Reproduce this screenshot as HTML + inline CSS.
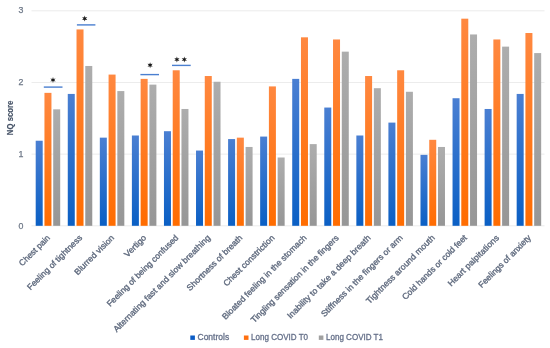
<!DOCTYPE html>
<html><head><meta charset="utf-8"><style>
html,body{margin:0;padding:0;background:#fff;}
body{width:550px;height:348px;overflow:hidden;}
svg{display:block;filter:blur(0.35px);}
text{font-family:"Liberation Sans",sans-serif;}
</style></head><body>
<svg width="550" height="348" viewBox="0 0 550 348">
<defs>
<linearGradient id="gb" x1="0" y1="0" x2="0" y2="1"><stop offset="0" stop-color="#4a7fd2"/><stop offset="1" stop-color="#0a5fc4"/></linearGradient>
<linearGradient id="go" x1="0" y1="0" x2="0" y2="1"><stop offset="0" stop-color="#ff8840"/><stop offset="1" stop-color="#ff6c00"/></linearGradient>
<linearGradient id="gg" x1="0" y1="0" x2="0" y2="1"><stop offset="0" stop-color="#adadad"/><stop offset="1" stop-color="#969696"/></linearGradient>
</defs>
<rect width="550" height="348" fill="#fff"/>

<line x1="31.5" y1="225.80" x2="544.5" y2="225.80" stroke="#ececec" stroke-width="1"/>
<line x1="31.5" y1="154.13" x2="544.5" y2="154.13" stroke="#ececec" stroke-width="1"/>
<line x1="31.5" y1="82.47" x2="544.5" y2="82.47" stroke="#ececec" stroke-width="1"/>
<line x1="31.5" y1="10.80" x2="544.5" y2="10.80" stroke="#ececec" stroke-width="1"/>
<text x="23.3" y="228.70" font-size="8.8" fill="#6e7888" stroke="#6e7888" stroke-width="0.25" text-anchor="end">0</text>
<text x="23.3" y="157.03" font-size="8.8" fill="#6e7888" stroke="#6e7888" stroke-width="0.25" text-anchor="end">1</text>
<text x="23.3" y="85.37" font-size="8.8" fill="#6e7888" stroke="#6e7888" stroke-width="0.25" text-anchor="end">2</text>
<text x="23.3" y="13.20" font-size="8.8" fill="#6e7888" stroke="#6e7888" stroke-width="0.25" text-anchor="end">3</text>
<text transform="translate(13.1 117.9) rotate(-90)" font-size="8.6" font-weight="bold" fill="#475468" stroke="#475468" stroke-width="0.15" text-anchor="middle" textLength="34.6" lengthAdjust="spacingAndGlyphs">NQ score</text>
<rect x="35.70" y="140.73" width="7.0" height="85.07" fill="url(#gb)"/>
<rect x="44.45" y="92.86" width="7.0" height="132.94" fill="url(#go)"/>
<rect x="53.20" y="109.34" width="7.0" height="116.46" fill="url(#gg)"/>
<rect x="67.77" y="93.93" width="7.0" height="131.87" fill="url(#gb)"/>
<rect x="76.52" y="29.43" width="7.0" height="196.37" fill="url(#go)"/>
<rect x="85.27" y="65.98" width="7.0" height="159.82" fill="url(#gg)"/>
<rect x="99.83" y="137.65" width="7.0" height="88.15" fill="url(#gb)"/>
<rect x="108.58" y="74.58" width="7.0" height="151.22" fill="url(#go)"/>
<rect x="117.33" y="91.07" width="7.0" height="134.73" fill="url(#gg)"/>
<rect x="131.89" y="135.50" width="7.0" height="90.30" fill="url(#gb)"/>
<rect x="140.64" y="78.88" width="7.0" height="146.92" fill="url(#go)"/>
<rect x="149.39" y="84.62" width="7.0" height="141.18" fill="url(#gg)"/>
<rect x="163.96" y="131.20" width="7.0" height="94.60" fill="url(#gb)"/>
<rect x="172.71" y="70.28" width="7.0" height="155.52" fill="url(#go)"/>
<rect x="181.46" y="108.98" width="7.0" height="116.82" fill="url(#gg)"/>
<rect x="196.02" y="150.55" width="7.0" height="75.25" fill="url(#gb)"/>
<rect x="204.77" y="76.02" width="7.0" height="149.78" fill="url(#go)"/>
<rect x="213.52" y="81.75" width="7.0" height="144.05" fill="url(#gg)"/>
<rect x="228.09" y="139.08" width="7.0" height="86.72" fill="url(#gb)"/>
<rect x="236.84" y="137.65" width="7.0" height="88.15" fill="url(#go)"/>
<rect x="245.59" y="146.97" width="7.0" height="78.83" fill="url(#gg)"/>
<rect x="260.15" y="136.57" width="7.0" height="89.23" fill="url(#gb)"/>
<rect x="268.90" y="86.41" width="7.0" height="139.39" fill="url(#go)"/>
<rect x="277.65" y="157.50" width="7.0" height="68.30" fill="url(#gg)"/>
<rect x="292.22" y="78.88" width="7.0" height="146.92" fill="url(#gb)"/>
<rect x="300.97" y="37.32" width="7.0" height="188.48" fill="url(#go)"/>
<rect x="309.72" y="144.10" width="7.0" height="81.70" fill="url(#gg)"/>
<rect x="324.28" y="107.55" width="7.0" height="118.25" fill="url(#gb)"/>
<rect x="333.03" y="39.47" width="7.0" height="186.33" fill="url(#go)"/>
<rect x="341.78" y="51.65" width="7.0" height="174.15" fill="url(#gg)"/>
<rect x="356.35" y="135.50" width="7.0" height="90.30" fill="url(#gb)"/>
<rect x="365.10" y="76.02" width="7.0" height="149.78" fill="url(#go)"/>
<rect x="373.85" y="88.20" width="7.0" height="137.60" fill="url(#gg)"/>
<rect x="388.41" y="122.60" width="7.0" height="103.20" fill="url(#gb)"/>
<rect x="397.16" y="70.28" width="7.0" height="155.52" fill="url(#go)"/>
<rect x="405.91" y="91.78" width="7.0" height="134.02" fill="url(#gg)"/>
<rect x="420.48" y="154.85" width="7.0" height="70.95" fill="url(#gb)"/>
<rect x="429.23" y="139.80" width="7.0" height="86.00" fill="url(#go)"/>
<rect x="437.98" y="146.97" width="7.0" height="78.83" fill="url(#gg)"/>
<rect x="452.54" y="98.23" width="7.0" height="127.57" fill="url(#gb)"/>
<rect x="461.29" y="18.68" width="7.0" height="207.12" fill="url(#go)"/>
<rect x="470.04" y="34.45" width="7.0" height="191.35" fill="url(#gg)"/>
<rect x="484.61" y="108.98" width="7.0" height="116.82" fill="url(#gb)"/>
<rect x="493.36" y="39.47" width="7.0" height="186.33" fill="url(#go)"/>
<rect x="502.11" y="46.63" width="7.0" height="179.17" fill="url(#gg)"/>
<rect x="516.67" y="93.93" width="7.0" height="131.87" fill="url(#gb)"/>
<rect x="525.42" y="33.02" width="7.0" height="192.78" fill="url(#go)"/>
<rect x="534.17" y="53.08" width="7.0" height="172.72" fill="url(#gg)"/>
<text transform="translate(50.60 238.35) rotate(-45)" font-size="8.45" fill="#5f6a7e" stroke="#5f6a7e" stroke-width="0.35" text-anchor="end" textLength="39.93" lengthAdjust="spacingAndGlyphs">Chest pain</text>
<text transform="translate(82.66 238.35) rotate(-45)" font-size="8.45" fill="#5f6a7e" stroke="#5f6a7e" stroke-width="0.35" text-anchor="end" textLength="73.76" lengthAdjust="spacingAndGlyphs">Feeling of tightness</text>
<text transform="translate(114.73 238.35) rotate(-45)" font-size="8.45" fill="#5f6a7e" stroke="#5f6a7e" stroke-width="0.35" text-anchor="end" textLength="52.40" lengthAdjust="spacingAndGlyphs">Blurred vision</text>
<text transform="translate(146.79 238.35) rotate(-45)" font-size="8.45" fill="#5f6a7e" stroke="#5f6a7e" stroke-width="0.35" text-anchor="end" textLength="27.32" lengthAdjust="spacingAndGlyphs">Vertigo</text>
<text transform="translate(178.86 238.35) rotate(-45)" font-size="8.45" fill="#5f6a7e" stroke="#5f6a7e" stroke-width="0.35" text-anchor="end" textLength="97.18" lengthAdjust="spacingAndGlyphs">Feeling of being confused</text>
<text transform="translate(210.92 238.35) rotate(-45)" font-size="8.45" fill="#5f6a7e" stroke="#5f6a7e" stroke-width="0.35" text-anchor="end" textLength="133.32" lengthAdjust="spacingAndGlyphs">Alternating fast and slow breathing</text>
<text transform="translate(242.99 238.35) rotate(-45)" font-size="8.45" fill="#5f6a7e" stroke="#5f6a7e" stroke-width="0.35" text-anchor="end" textLength="74.80" lengthAdjust="spacingAndGlyphs">Shortness of breath</text>
<text transform="translate(275.06 238.35) rotate(-45)" font-size="8.45" fill="#5f6a7e" stroke="#5f6a7e" stroke-width="0.35" text-anchor="end" textLength="68.38" lengthAdjust="spacingAndGlyphs">Chest constriction</text>
<text transform="translate(307.12 238.35) rotate(-45)" font-size="8.45" fill="#5f6a7e" stroke="#5f6a7e" stroke-width="0.35" text-anchor="end" textLength="115.60" lengthAdjust="spacingAndGlyphs">Bloated feeling in the stomach</text>
<text transform="translate(339.19 238.35) rotate(-45)" font-size="8.45" fill="#5f6a7e" stroke="#5f6a7e" stroke-width="0.35" text-anchor="end" textLength="120.13" lengthAdjust="spacingAndGlyphs">Tingling sensation in the fingers</text>
<text transform="translate(371.25 238.35) rotate(-45)" font-size="8.45" fill="#5f6a7e" stroke="#5f6a7e" stroke-width="0.35" text-anchor="end" textLength="114.21" lengthAdjust="spacingAndGlyphs">Inability to take a deep breath</text>
<text transform="translate(403.31 238.35) rotate(-45)" font-size="8.45" fill="#5f6a7e" stroke="#5f6a7e" stroke-width="0.35" text-anchor="end" textLength="111.51" lengthAdjust="spacingAndGlyphs">Stiffness in the fingers or arm</text>
<text transform="translate(435.38 238.35) rotate(-45)" font-size="8.45" fill="#5f6a7e" stroke="#5f6a7e" stroke-width="0.35" text-anchor="end" textLength="93.08" lengthAdjust="spacingAndGlyphs">Tightness around mouth</text>
<text transform="translate(467.44 238.35) rotate(-45)" font-size="8.45" fill="#5f6a7e" stroke="#5f6a7e" stroke-width="0.35" text-anchor="end" textLength="87.64" lengthAdjust="spacingAndGlyphs">Cold hands or cold feet</text>
<text transform="translate(499.51 238.35) rotate(-45)" font-size="8.45" fill="#5f6a7e" stroke="#5f6a7e" stroke-width="0.35" text-anchor="end" textLength="68.40" lengthAdjust="spacingAndGlyphs">Heart palpitations</text>
<text transform="translate(531.57 238.35) rotate(-45)" font-size="8.45" fill="#5f6a7e" stroke="#5f6a7e" stroke-width="0.35" text-anchor="end" textLength="70.43" lengthAdjust="spacingAndGlyphs">Feelings of anxiety</text>
<line x1="43.8" y1="87.1" x2="62.5" y2="87.1" stroke="#4a7fd0" stroke-width="1.4"/>
<polygon points="53.00,77.00 53.62,78.92 55.60,78.50 54.25,80.00 55.60,81.50 53.62,81.08 53.00,83.00 52.38,81.08 50.40,81.50 51.75,80.00 50.40,78.50 52.38,78.92" fill="#1a1a1a"/>
<line x1="76.9" y1="24.9" x2="95.4" y2="24.9" stroke="#4a7fd0" stroke-width="1.4"/>
<polygon points="84.70,15.60 85.33,17.52 87.30,17.10 85.95,18.60 87.30,20.10 85.33,19.68 84.70,21.60 84.08,19.68 82.10,20.10 83.45,18.60 82.10,17.10 84.08,17.52" fill="#1a1a1a"/>
<line x1="140.4" y1="74.6" x2="159.0" y2="74.6" stroke="#4a7fd0" stroke-width="1.4"/>
<polygon points="150.10,62.20 150.72,64.12 152.70,63.70 151.35,65.20 152.70,66.70 150.72,66.28 150.10,68.20 149.47,66.28 147.50,66.70 148.85,65.20 147.50,63.70 149.47,64.12" fill="#1a1a1a"/>
<line x1="172.0" y1="65.4" x2="190.7" y2="65.4" stroke="#4a7fd0" stroke-width="1.4"/>
<polygon points="176.90,56.50 177.53,58.42 179.50,58.00 178.15,59.50 179.50,61.00 177.53,60.58 176.90,62.50 176.28,60.58 174.30,61.00 175.65,59.50 174.30,58.00 176.28,58.42" fill="#1a1a1a"/>
<polygon points="184.30,56.50 184.93,58.42 186.90,58.00 185.55,59.50 186.90,61.00 184.93,60.58 184.30,62.50 183.68,60.58 181.70,61.00 183.05,59.50 181.70,58.00 183.68,58.42" fill="#1a1a1a"/>
<rect x="190.30" y="335.5" width="4.6" height="4.4" fill="#0b5cc6"/>
<text x="197.50" y="340.3" font-size="8.5" fill="#66718a" stroke="#66718a" stroke-width="0.3" textLength="31.63" lengthAdjust="spacingAndGlyphs">Controls</text>
<rect x="243.90" y="335.5" width="4.6" height="4.4" fill="#ff7010"/>
<text x="251.10" y="340.3" font-size="8.5" fill="#66718a" stroke="#66718a" stroke-width="0.3" textLength="56.99" lengthAdjust="spacingAndGlyphs">Long COVID T0</text>
<rect x="318.80" y="335.5" width="4.6" height="4.4" fill="#a0a0a0"/>
<text x="326.00" y="340.3" font-size="8.5" fill="#66718a" stroke="#66718a" stroke-width="0.3" textLength="56.99" lengthAdjust="spacingAndGlyphs">Long COVID T1</text>
</svg>
</body></html>
